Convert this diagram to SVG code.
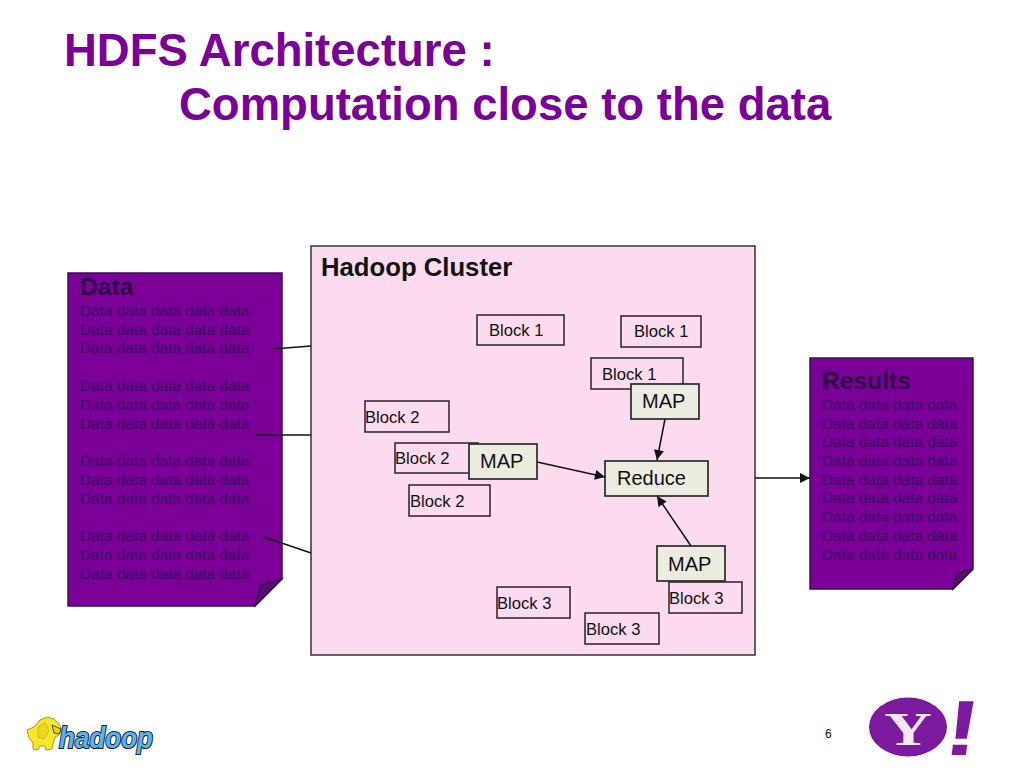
<svg xmlns="http://www.w3.org/2000/svg" width="1024" height="768" viewBox="0 0 1024 768">
<style>
text{font-family:"Liberation Sans",Arial,sans-serif}
.title{font-size:45.5px;font-weight:bold;fill:#7a0098}
.doc{fill:#7a0098;stroke:#3a1050;stroke-width:1.5}
.fold{fill:#5d0a78;stroke:#2e0a40;stroke-width:1.2}
.dh{font-size:24.6px;font-weight:bold;fill:#2e0048}
.dt{font-size:15.4px;fill:#3f0062}
.blk{fill:#fbdbed;stroke:#2a2030;stroke-width:1.5}
.box{fill:#ecebdf;stroke:#2a2a2a;stroke-width:1.7}
.bt{font-size:16.6px;fill:#111}
.mt{font-size:20px;fill:#111}
.c{stroke:#111;stroke-width:1.5;fill:none}
</style>
<defs>
<marker id="ah" viewBox="0 0 10 10" refX="10" refY="5" markerWidth="11" markerHeight="10" markerUnits="userSpaceOnUse" orient="auto"><path d="M0 0L10 5L0 10z" fill="#111"/></marker>
</defs>
<rect width="1024" height="768" fill="#fff"/>
<g id="title">
<text class="title" x="64" y="66">HDFS Architecture :</text>
<text class="title" x="179" y="120">Computation close to the data</text>
</g>
<g id="cluster">
<rect x="311" y="246" width="444" height="409" fill="#fbdbed" stroke="#333" stroke-width="1.5"/>
<text x="321" y="276" font-size="25.7px" font-weight="bold" fill="#111">Hadoop Cluster</text>
</g>
<g id="data">
<path class="doc" d="M68 273H282V579L255 606H68z"/>
<path class="fold" d="M255 606L261 585L282 579z"/>
<text class="dh" x="80" y="295">Data</text>
<g class="dt">
<text x="80" y="316">Data data data data data</text>
<text x="80" y="335">Data data data data data</text>
<text x="80" y="353">Data data data data data</text>
<text x="80" y="391">Data data data data data</text>
<text x="80" y="410">Data data data data data</text>
<text x="80" y="429">Data data data data data</text>
<text x="80" y="466">Data data data data data</text>
<text x="80" y="485">Data data data data data</text>
<text x="80" y="504">Data data data data data</text>
<text x="80" y="541">Data data data data data</text>
<text x="80" y="560">Data data data data data</text>
<text x="80" y="579">Data data data data data</text>
</g>
</g>
<g id="results">
<path class="doc" d="M810 358H973V569L953 589H810z"/>
<path class="fold" d="M953 589L957 574L973 569z"/>
<text class="dh" x="822" y="389">Results</text>
<g class="dt">
<text x="822" y="410">Data data data data</text>
<text x="822" y="429">Data data data data</text>
<text x="822" y="447">Data data data data</text>
<text x="822" y="466">Data data data data</text>
<text x="822" y="485">Data data data data</text>
<text x="822" y="503">Data data data data</text>
<text x="822" y="522">Data data data data</text>
<text x="822" y="541">Data data data data</text>
<text x="822" y="560">Data data data data</text>
</g>
</g>
<g id="block1a"><rect class="blk" x="477" y="315" width="87" height="30"/><text class="bt" x="489" y="336">Block 1</text></g>
<g id="block1b"><rect class="blk" x="621" y="316" width="80" height="31"/><text class="bt" x="634" y="337">Block 1</text></g>
<g id="block1c"><rect class="blk" x="591" y="358" width="92" height="31"/><text class="bt" x="602" y="380">Block 1</text></g>
<g id="block2a"><rect class="blk" x="365" y="401" width="84" height="31"/><text class="bt" x="365" y="423">Block 2</text></g>
<g id="block2b"><rect class="blk" x="395" y="443" width="83" height="30"/><text class="bt" x="395" y="464">Block 2</text></g>
<g id="block2c"><rect class="blk" x="409" y="485" width="81" height="31"/><text class="bt" x="410" y="507">Block 2</text></g>
<g id="block3a"><rect class="blk" x="669" y="582" width="73" height="31"/><text class="bt" x="669" y="604">Block 3</text></g>
<g id="block3b"><rect class="blk" x="497" y="587" width="73" height="31"/><text class="bt" x="497" y="609">Block 3</text></g>
<g id="block3c"><rect class="blk" x="585" y="613" width="74" height="31"/><text class="bt" x="586" y="635">Block 3</text></g>
<g id="map1"><rect class="box" x="631" y="384" width="68" height="35"/><text class="mt" x="642" y="408">MAP</text></g>
<g id="map2"><rect class="box" x="469" y="444" width="68" height="35"/><text class="mt" x="480" y="468">MAP</text></g>
<g id="map3"><rect class="box" x="657" y="546" width="68" height="35"/><text class="mt" x="668" y="571">MAP</text></g>
<g id="reduce"><rect class="box" x="605" y="461" width="103" height="35"/><text class="mt" x="617" y="485">Reduce</text></g>
<g id="connectors">
<line class="c" x1="273" y1="349" x2="311" y2="346"/>
<line class="c" x1="256" y1="435" x2="311" y2="435"/>
<line class="c" x1="264" y1="537" x2="311" y2="553"/>
<line class="c" x1="665" y1="419" x2="657" y2="460" marker-end="url(#ah)"/>
<line class="c" x1="537" y1="462" x2="605" y2="477" marker-end="url(#ah)"/>
<line class="c" x1="691" y1="546" x2="657" y2="496" marker-end="url(#ah)"/>
<line class="c" x1="755" y1="478" x2="810" y2="478" marker-end="url(#ah)"/>
</g>
<g id="hadoop-logo">
<path d="M27 730L34 727L40 720L47 717L54 719L59 724L62 730L59 735L55 737L53 744L52 749L46 750L45 746L40 746L38 750L33 749L33 743L29 738z" fill="#f7e72a" stroke="#a89a20" stroke-width="1"/>
<path d="M38 727L45 723L49 731L44 739L38 737z" fill="#ecd81e" stroke="#c4b020" stroke-width=".8"/>
<path d="M52 725L61 729L59 734L54 733z" fill="#e6d21c" stroke="#3a3a20" stroke-width=".9"/>
<text x="59" y="748" font-size="30px" font-weight="bold" font-style="italic" fill="#5fb2e8" stroke="#12263a" stroke-width="2.2" textLength="94" lengthAdjust="spacingAndGlyphs" paint-order="stroke">hadoop</text>
</g>
<g id="page"><text x="825" y="738" font-size="12px" fill="#111">6</text></g>
<g id="yahoo-logo">
<ellipse cx="908" cy="727" rx="39" ry="29.5" fill="#7b1a9c"/>
<text transform="translate(908,745) scale(1.4,1)" font-size="47px" font-weight="bold" text-anchor="middle" fill="#f4e6f4" style="font-family:'Liberation Serif',serif">Y</text>
<text transform="translate(942,755) skewX(-8) scale(1.3,1)" font-size="78px" font-weight="bold" fill="#7b1a9c">!</text>
</g>
</svg>
